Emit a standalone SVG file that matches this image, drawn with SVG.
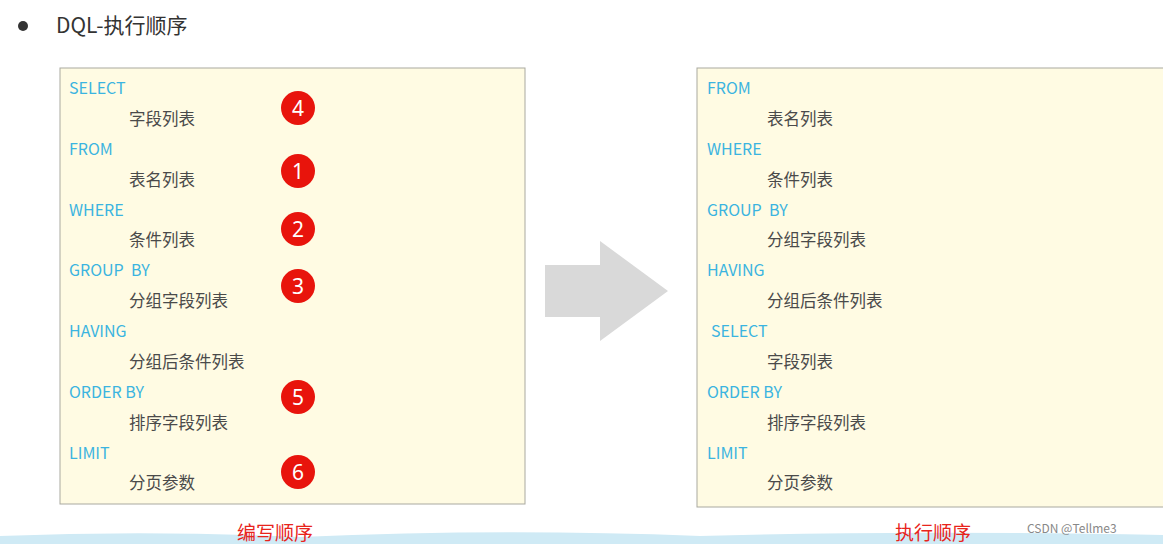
<svg xmlns="http://www.w3.org/2000/svg" width="1163" height="544" viewBox="0 0 1163 544">
<style>
text{font-family:"Noto Sans CJK SC","Noto Sans",sans-serif}
.kw{fill:#3bb4e0;font-size:16px}
.it{fill:#4a4a4a;font-size:16.5px}
.box{fill:#fffbe3;stroke:#a9a9a0;stroke-width:1}
.num{fill:#e8140c}
.nt{fill:#fff;font-size:21px;text-anchor:middle;font-family:"Noto Sans",sans-serif}
.cap{fill:#e8241c;font-size:19px}
</style>
<rect width="1163" height="544" fill="#fff"/>
<path d="M0 536 Q150 530 300 537 Q500 528 700 536 Q900 530 1163 535 V544 H0Z" fill="#cfeaf5"/>
<circle cx="23" cy="26" r="5" fill="#333"/>
<text x="56" y="33" font-size="21" fill="#333">DQL-执行顺序</text>
<g id="left">
<rect class="box" x="60" y="68" width="465" height="436"/>
<text class="kw" x="69" y="94">SELECT</text><text class="it" x="129" y="125">字段列表</text>
<text class="kw" x="69" y="155">FROM</text><text class="it" x="129" y="186">表名列表</text>
<text class="kw" x="69" y="216">WHERE</text><text class="it" x="129" y="246">条件列表</text>
<text class="kw" x="69" y="276">GROUP&#160; BY</text><text class="it" x="129" y="307">分组字段列表</text>
<text class="kw" x="69" y="337">HAVING</text><text class="it" x="129" y="368">分组后条件列表</text>
<text class="kw" x="69" y="398">ORDER BY</text><text class="it" x="129" y="429">排序字段列表</text>
<text class="kw" x="69" y="459">LIMIT</text><text class="it" x="129" y="489">分页参数</text>
</g>
<g id="nums">
<circle class="num" cx="298" cy="108" r="17"/><text class="nt" x="298" y="116">4</text>
<circle class="num" cx="298" cy="171" r="17"/><text class="nt" x="298" y="179">1</text>
<circle class="num" cx="298" cy="229" r="17"/><text class="nt" x="298" y="237">2</text>
<circle class="num" cx="298" cy="286" r="17"/><text class="nt" x="298" y="294">3</text>
<circle class="num" cx="298" cy="397" r="17"/><text class="nt" x="298" y="405">5</text>
<circle class="num" cx="298" cy="472" r="17"/><text class="nt" x="298" y="480">6</text>
</g>
<g id="connectors">
<polygon points="545,265 600,265 600,241 668,291 600,341 600,317 545,317" fill="#d9d9d9"/>
</g>
<g id="right">
<rect class="box" x="697" y="68" width="470" height="439"/>
<text class="kw" x="707" y="94">FROM</text><text class="it" x="767" y="125">表名列表</text>
<text class="kw" x="707" y="155">WHERE</text><text class="it" x="767" y="186">条件列表</text>
<text class="kw" x="707" y="216">GROUP&#160; BY</text><text class="it" x="767" y="246">分组字段列表</text>
<text class="kw" x="707" y="276">HAVING</text><text class="it" x="767" y="307">分组后条件列表</text>
<text class="kw" x="711" y="337">SELECT</text><text class="it" x="767" y="368">字段列表</text>
<text class="kw" x="707" y="398">ORDER BY</text><text class="it" x="767" y="429">排序字段列表</text>
<text class="kw" x="707" y="459">LIMIT</text><text class="it" x="767" y="489">分页参数</text>
</g>
<text class="cap" x="237" y="540">编写顺序</text>
<text class="cap" x="895" y="540">执行顺序</text>
<text x="1027" y="533" font-size="12" fill="#888" font-family="Liberation Sans,sans-serif">CSDN @Tellme3</text>
</svg>
